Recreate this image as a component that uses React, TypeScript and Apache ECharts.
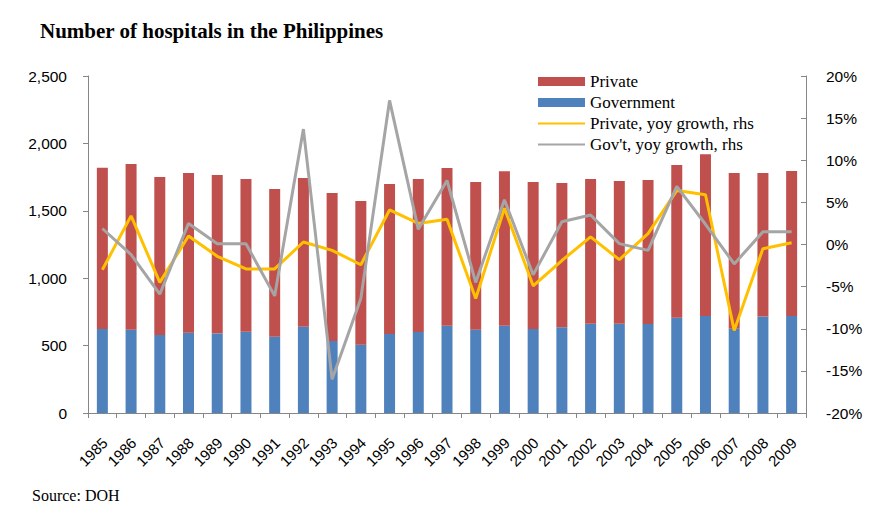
import React, { useEffect, useRef } from "react";
import * as echarts from "echarts";

const years = ["1985","1986","1987","1988","1989","1990","1991","1992","1993","1994","1995","1996","1997","1998","1999","2000","2001","2002","2003","2004","2005","2006","2007","2008","2009"];
const totalHospitals = [1820,1847,1751,1780,1766,1736,1662,1743,1632,1573,1699,1736,1817,1714,1793,1714,1706,1736,1721,1729,1840,1919,1780,1780,1795];
const governmentHospitals = [623,618,579,596,591,603,566,640,534,507,586,601,648,618,648,623,636,663,662,660,707,720,625,715,720];
const privateHospitals = totalHospitals.map((t, i) => t - governmentHospitals[i]);
const privateGrowth = [-3.0,3.4,-4.5,1.0,-1.4,-2.9,-2.9,0.3,-0.7,-2.4,4.1,2.5,3.0,-6.4,4.3,-4.9,-1.9,0.9,-1.8,1.3,6.4,5.9,-10.2,-0.5,0.2];
const govGrowth = [1.9,-1.2,-5.9,2.5,0.1,0.1,-6.1,13.7,-16.0,-6.4,17.1,1.8,7.6,-4.5,5.3,-3.6,2.7,3.5,0.1,-0.7,6.9,2.4,-2.3,1.5,1.5];

const SERIF = "'Liberation Serif', 'DejaVu Serif', serif";
const SANS = "'Liberation Sans', Arial, sans-serif";
const AXIS_COLOR = "#868686";

export default function App() {
  const ref = useRef<HTMLDivElement>(null);
  useEffect(() => {
    if (!ref.current) return;
    const chart = echarts.init(ref.current, null, { renderer: "svg" });
    chart.setOption({
      animation: false,
      backgroundColor: "#ffffff",
      textStyle: { fontFamily: SERIF },
      title: {
        text: "Number of hospitals in the Philippines",
        left: 40,
        top: 20,
        padding: 0,
        textStyle: { fontFamily: SERIF, fontWeight: "bold", fontSize: 21, color: "#000" },
      },
      graphic: [
        {
          type: "text",
          left: 32,
          top: 487,
          style: { text: "Source: DOH", fontFamily: SERIF, fontSize: 16, fill: "#000" },
        },
      ],
      legend: {
        orient: "vertical",
        left: 537,
        top: 73,
        padding: 0,
        itemWidth: 47,
        itemHeight: 9,
        itemGap: 4,
        textStyle: { fontFamily: SERIF, fontSize: 17, color: "#000", lineHeight: 17 },
        data: [
          { name: "Private", icon: "rect" },
          { name: "Government", icon: "rect" },
          { name: "Private, yoy growth, rhs", itemStyle: { opacity: 0 }, lineStyle: { width: 2 } },
          { name: "Gov't, yoy growth, rhs", itemStyle: { opacity: 0 }, lineStyle: { width: 2 } },
        ],
      },
      grid: { left: 88, right: 88, top: 76, bottom: 118, containLabel: false },
      xAxis: {
        type: "category",
        data: years,
        boundaryGap: true,
        axisLine: { lineStyle: { color: AXIS_COLOR } },
        axisTick: { show: true, length: 5, interval: 0, lineStyle: { color: AXIS_COLOR } },
        axisLabel: {
          rotate: 45,
          interval: 0,
          fontFamily: SANS,
          fontSize: 15,
          color: "#000",
          margin: 19,
          align: "right",
          verticalAlign: "top",
          padding: [0, 4, 0, 0],
        },
      },
      yAxis: [
        {
          type: "value",
          min: 0,
          max: 2500,
          interval: 500,
          splitLine: { show: false },
          axisLine: { show: true, lineStyle: { color: AXIS_COLOR } },
          axisTick: { show: true, length: 5, lineStyle: { color: AXIS_COLOR } },
          axisLabel: {
            fontFamily: SANS,
            fontSize: 15.5,
            color: "#000",
            margin: 21,
            formatter: (v: number) => v.toLocaleString("en-US"),
          },
        },
        {
          type: "value",
          min: -20,
          max: 20,
          interval: 5,
          position: "right",
          splitLine: { show: false },
          axisLine: { show: true, lineStyle: { color: AXIS_COLOR } },
          axisTick: { show: true, inside: true, length: 5, lineStyle: { color: AXIS_COLOR } },
          axisLabel: { fontFamily: SANS, fontSize: 15.5, color: "#000", margin: 20, formatter: "{value}%" },
        },
      ],
      series: [
        {
          name: "Government",
          type: "bar",
          stack: "total",
          data: governmentHospitals,
          barWidth: 11,
          itemStyle: { color: "#4F81BD" },
        },
        {
          name: "Private",
          type: "bar",
          stack: "total",
          data: privateHospitals,
          barWidth: 11,
          itemStyle: { color: "#C0504D" },
        },
        {
          name: "Private, yoy growth, rhs",
          type: "line",
          yAxisIndex: 1,
          data: privateGrowth,
          symbol: "none",
          lineStyle: { color: "#FFC000", width: 3 },
          itemStyle: { color: "#FFC000" },
          z: 5,
        },
        {
          name: "Gov't, yoy growth, rhs",
          type: "line",
          yAxisIndex: 1,
          data: govGrowth,
          symbol: "none",
          lineStyle: { color: "#A5A5A5", width: 3 },
          itemStyle: { color: "#A5A5A5" },
          z: 6,
        },
      ],
    });
    return () => chart.dispose();
  }, []);
  return <div ref={ref} style={{ width: 894, height: 531, position: "absolute", left: 0, top: 0 }} />;
}
